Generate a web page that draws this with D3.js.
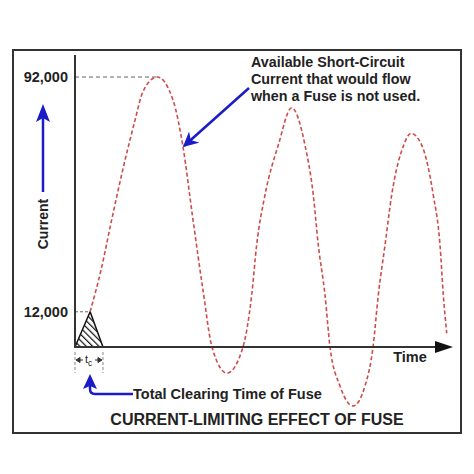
<!DOCTYPE html>
<html>
<head>
<meta charset="utf-8">
<script src="https://cdn.jsdelivr.net/npm/d3@7"></script>
<style>
  body { margin: 0; background: #fff; }
  text { font-family: "Liberation Sans", Arial, sans-serif; font-weight: bold; fill: #222; }
</style>
</head>
<body>
<script>
// available short-circuit current (no fuse)
var timeMs = [2.0, 3.44, 4.85, 6.31, 7.94, 8.82, 9.48, 10.89,
              12.96, 14.29, 15.61, 16.93, 18.12, 20.11, 22.22,
              23.37, 24.03, 25.13, 26.89, 28.66,
              30.42, 31.52, 32.18, 33.07, 33.73,
              35.05, 36.77, 38.36, 39.42,
              40.12, 41.01, 41.89, 43.48, 44.44,
              45.86, 47.39, 48.28, 48.72, 49.17];
var currentA = [12000, 26200, 43300, 60300, 77300, 85900, 89300, 92000,
                84200, 68100, 43300, 19400, 0, -8900, 0,
                17700, 34800, 51800, 68800, 81500,
                68800, 51800, 34800, 17700, 0,
                -13300, -20100, -13300, 0,
                17700, 34800, 51800, 68800, 72800,
                68800, 51800, 34800, 17700, 4700];

// let-through current when the fuse clears
var clearTime = [0, 2.0, 3.7];
var clearCurrent = [0, 12000, 0];

var tickValues = [12000, 92000];
var tickLabels = ["12,000", "92,000"];

var W = 474, H = 474;

var svg = d3.select("body").append("svg")
    .attr("width", W)
    .attr("height", H);

// set the ranges
var x = d3.scaleLinear().domain([0, 50]).range([75, 453]);
var y = d3.scaleLinear().domain([0, 92000]).range([347, 77]);

var defs = svg.append("defs");
defs.append("pattern")
    .attr("id", "hatch")
    .attr("patternUnits", "userSpaceOnUse")
    .attr("width", 4.5).attr("height", 4.5)
    .attr("patternTransform", "rotate(-45)")
  .append("line")
    .attr("x1", 0).attr("y1", 0).attr("x2", 0).attr("y2", 4.5)
    .attr("stroke", "#111").attr("stroke-width", 2.4);

defs.append("marker")
    .attr("id", "blueHead")
    .attr("viewBox", "0 0 10 10")
    .attr("refX", 9).attr("refY", 5)
    .attr("markerWidth", 6).attr("markerHeight", 6)
    .attr("markerUnits", "strokeWidth")
    .attr("orient", "auto")
  .append("path")
    .attr("d", "M0,0L10,5L0,10L3,5Z")
    .attr("fill", "#1b1bc8");

// frame
svg.append("rect")
    .attr("x", 13).attr("y", 50)
    .attr("width", 448).attr("height", 383)
    .attr("fill", "none")
    .attr("stroke", "#333")
    .attr("stroke-width", 2);

// reference dashes to the y labels
svg.append("line")
    .attr("x1", x(0)).attr("x2", x(timeMs[7]))
    .attr("y1", y(92000)).attr("y2", y(92000))
    .attr("stroke", "#666").attr("stroke-width", 1)
    .attr("stroke-dasharray", "4,3");
svg.append("line")
    .attr("x1", x(0)).attr("x2", x(clearTime[1]))
    .attr("y1", y(12000)).attr("y2", y(12000))
    .attr("stroke", "#666").attr("stroke-width", 1)
    .attr("stroke-dasharray", "3,2");

// cleared area
var area = d3.line()
    .x(function(d) { return x(d[0]); })
    .y(function(d) { return y(d[1]); });
svg.append("path")
    .datum(d3.zip(clearTime, clearCurrent))
    .attr("d", function(d) { return area(d) + "Z"; })
    .attr("fill", "url(#hatch)")
    .attr("stroke", "#111")
    .attr("stroke-width", 1.5)
    .attr("stroke-linejoin", "round");

// the wave
var valueline = d3.line()
    .curve(d3.curveMonotoneX)
    .x(function(d) { return x(d[0]); })
    .y(function(d) { return y(d[1]); });
svg.append("path")
    .datum(d3.zip(timeMs, currentA))
    .attr("d", valueline)
    .attr("fill", "none")
    .attr("stroke", "#cf4b4b")
    .attr("stroke-width", 1.6)
    .attr("stroke-dasharray", "4,2.5");

// axes
svg.append("line")
    .attr("x1", x(0)).attr("x2", x(0))
    .attr("y1", y(0)).attr("y2", 55)
    .attr("stroke", "#333").attr("stroke-width", 2);
svg.append("line")
    .attr("x1", x(0) - 1).attr("x2", x(50) - 14)
    .attr("y1", y(0)).attr("y2", y(0))
    .attr("stroke", "#333").attr("stroke-width", 2);
svg.append("path")
    .attr("d", "M" + x(50) + "," + y(0) + "l-18,-6l0,12Z")
    .attr("fill", "#111");

svg.selectAll(".ylab")
    .data(tickValues)
  .enter().append("text")
    .attr("class", "ylab")
    .attr("x", 68)
    .attr("y", function(d) { return y(d); })
    .attr("dy", "0.36em")
    .attr("text-anchor", "end")
    .style("font-size", "14.5px")
    .text(function(d, i) { return tickLabels[i]; });

svg.append("text")
    .attr("transform", "translate(48,224) rotate(-90)")
    .attr("text-anchor", "middle")
    .style("font-size", "14px")
    .text("Current");

svg.append("line")
    .attr("x1", 43).attr("x2", 43)
    .attr("y1", 192).attr("y2", 118)
    .attr("stroke", "#1b1bc8").attr("stroke-width", 2.5);
svg.append("path")
    .attr("d", "M43,104l-7,18l7,-4l7,4Z")
    .attr("fill", "#1b1bc8");

svg.append("text")
    .attr("x", 410).attr("y", 362)
    .attr("text-anchor", "middle")
    .style("font-size", "14.5px")
    .text("Time");

// annotation for the wave
var note = svg.append("text")
    .style("font-size", "14.3px");
["Available Short-Circuit", "Current that would flow", "when a Fuse is not used."].forEach(function(s, i) {
  note.append("tspan").attr("x", 251).attr("y", 67 + i * 17).text(s);
});
svg.append("line")
    .attr("x1", 249).attr("y1", 88)
    .attr("x2", 184).attr("y2", 146)
    .attr("stroke", "#1b1bc8").attr("stroke-width", 2.5)
    .attr("marker-end", "url(#blueHead)");

// t_c marker
[clearTime[0], clearTime[2]].forEach(function(t) {
  svg.append("line")
      .attr("x1", x(t)).attr("x2", x(t))
      .attr("y1", 352).attr("y2", 373)
      .attr("stroke", "#888").attr("stroke-width", 1)
      .attr("stroke-dasharray", "3,2");
});
svg.append("path")
    .attr("d", "M" + (x(0) + 1) + ",360l4,-2.5l0,5Z M" + (x(0) + 4) + ",360l4,0" +
               " M" + (x(clearTime[2]) - 1) + ",360l-4,-2.5l0,5Z M" + (x(clearTime[2]) - 4) + ",360l-4,0")
    .attr("fill", "#333").attr("stroke", "#333").attr("stroke-width", 1);
var tc = svg.append("text")
    .attr("x", 85).attr("y", 363)
    .style("font-size", "11px")
    .style("font-weight", "normal");
tc.append("tspan").text("t");
tc.append("tspan").attr("dy", 3).style("font-size", "8.5px").text("c");

svg.append("path")
    .attr("d", "M133,394L95,394Q90,394 90,389L90,386")
    .attr("fill", "none")
    .attr("stroke", "#1b1bc8").attr("stroke-width", 2.5);
svg.append("path")
    .attr("d", "M90,374l-7,15l7,-3l7,3Z")
    .attr("fill", "#1b1bc8");

svg.append("text")
    .attr("x", 133).attr("y", 399)
    .style("font-size", "14.5px")
    .text("Total Clearing Time of Fuse");

svg.append("text")
    .attr("x", 257).attr("y", 425)
    .attr("text-anchor", "middle")
    .style("font-size", "16px")
    .text("CURRENT-LIMITING EFFECT OF FUSE");
</script>
</body>
</html>
